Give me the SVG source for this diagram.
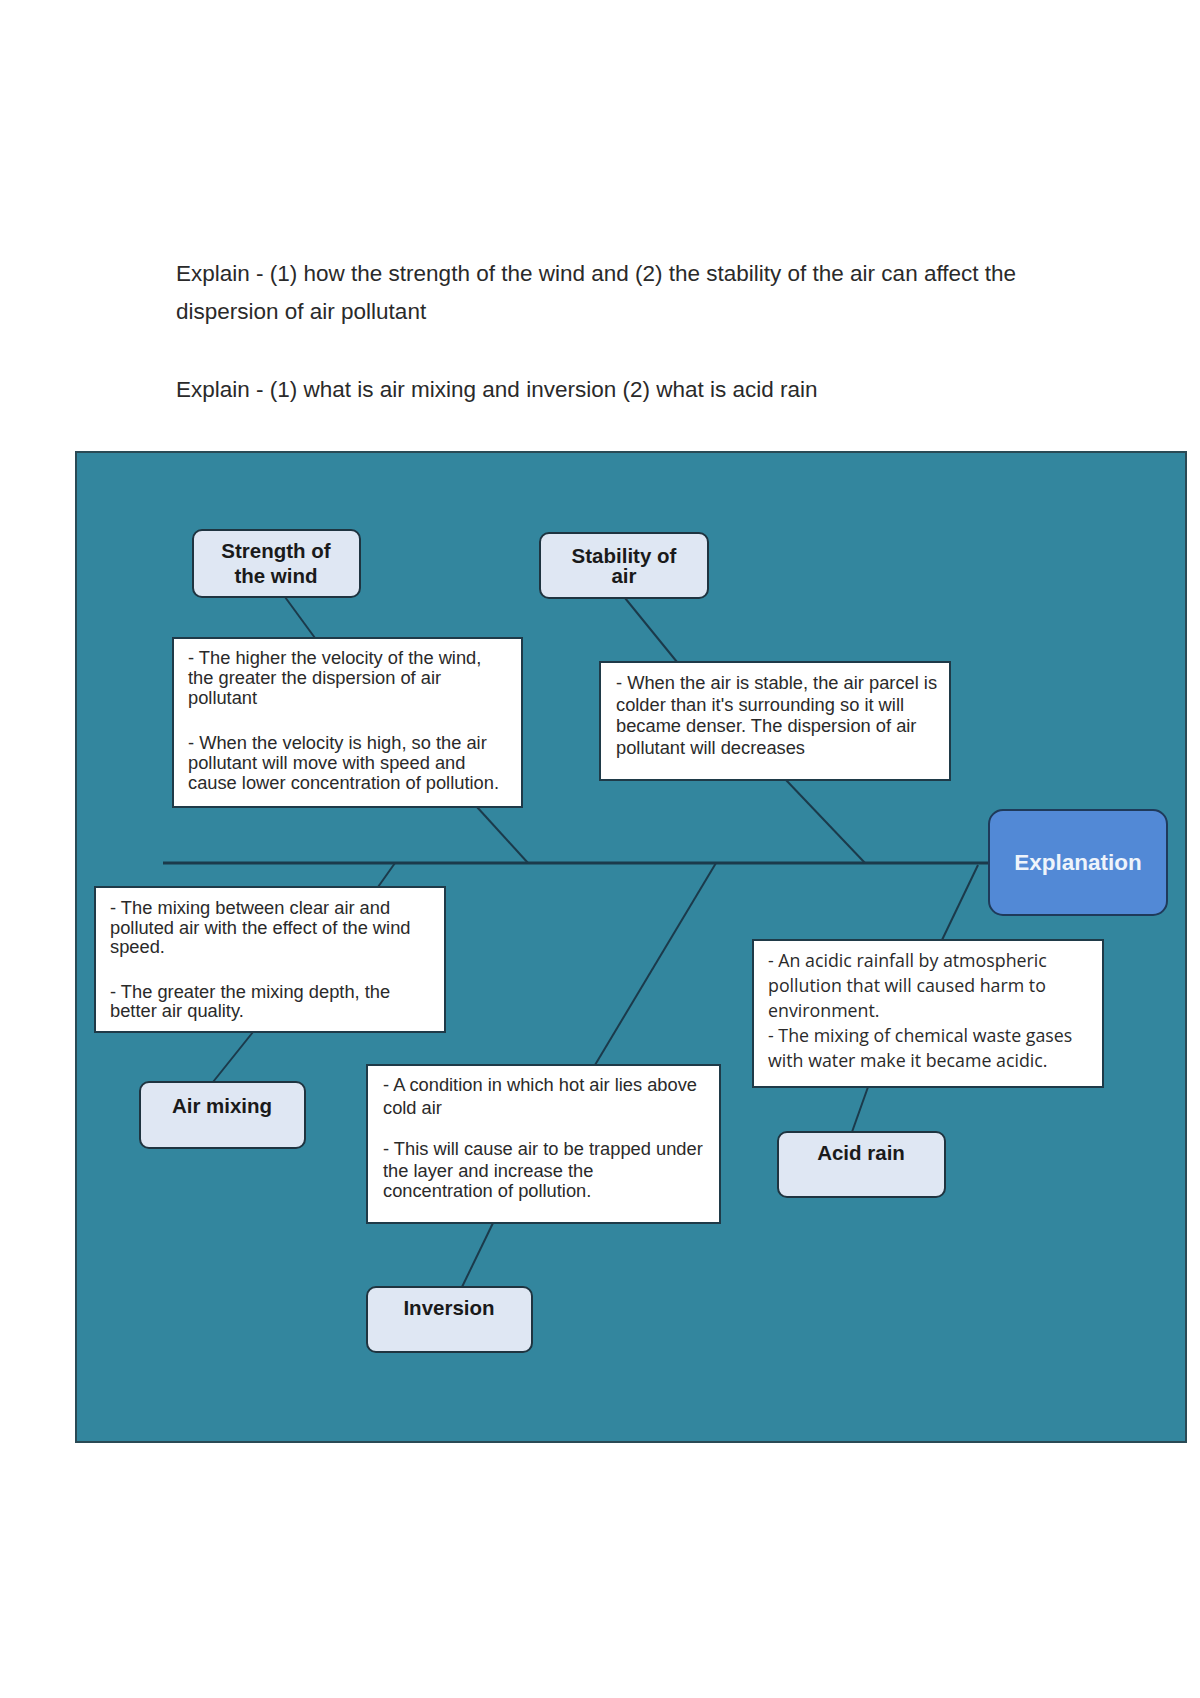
<svg xmlns="http://www.w3.org/2000/svg" width="1200" height="1698" viewBox="0 0 1200 1698">
<style>
.title{font-family:"Liberation Sans",Arial,sans-serif;font-size:22.5px;fill:#2a2a2a}
.lbl{fill:#dfe7f3;stroke:#1f3440;stroke-width:2}
.lt{font-family:"Liberation Sans",Arial,sans-serif;font-size:20.5px;font-weight:bold;fill:#1a1a1a;text-anchor:middle}
.tb{fill:#ffffff;stroke:#1f3a48;stroke-width:2}
.bt{font-family:"Liberation Sans",Arial,sans-serif;font-size:18.3px;fill:#2a2a2a}
.bo{font-family:"Open Sans","Noto Sans",sans-serif;font-size:17.8px;fill:#2a2a2a}
.con{stroke:#1b3a4b;stroke-width:2;fill:none}
</style>
<rect x="0" y="0" width="1200" height="1698" fill="#ffffff"/>
<text class="title" x="176" y="281">Explain - (1) how the strength of the wind and (2) the stability of the air can affect the</text>
<text class="title" x="176" y="319">dispersion of air pollutant</text>
<text class="title" x="176" y="397">Explain - (1) what is air mixing and inversion (2) what is acid rain</text>
<rect x="76" y="452" width="1110" height="990" fill="#33869e" stroke="#2a4a55" stroke-width="2"/>
<g id="connectors">
<line class="con" x1="163" y1="863" x2="989" y2="863" style="stroke-width:3"/>
<line class="con" x1="285" y1="597" x2="315" y2="638"/>
<line class="con" x1="477" y1="807" x2="528" y2="863"/>
<line class="con" x1="625" y1="598" x2="677" y2="662"/>
<line class="con" x1="786" y1="780" x2="865" y2="863"/>
<line class="con" x1="395" y1="863" x2="378" y2="887"/>
<line class="con" x1="253" y1="1032" x2="213" y2="1082"/>
<line class="con" x1="716" y1="863" x2="595" y2="1065"/>
<line class="con" x1="493" y1="1223" x2="462" y2="1287"/>
<line class="con" x1="978" y1="865" x2="942" y2="940"/>
<line class="con" x1="868" y1="1087" x2="852" y2="1132"/>
</g>
<g id="strength">
<rect class="lbl" x="193" y="530" width="167" height="67" rx="9"/>
<text class="lt" x="276" y="558">Strength of</text>
<text class="lt" x="276" y="583">the wind</text>
</g>
<g id="stability">
<rect class="lbl" x="540" y="533" width="168" height="65" rx="9"/>
<text class="lt" x="624" y="563">Stability of</text>
<text class="lt" x="624" y="583">air</text>
</g>
<g id="strength-text">
<rect class="tb" x="173" y="638" width="349" height="169"/>
<text class="bt" x="188" y="664">- The higher the velocity of the wind,</text>
<text class="bt" x="188" y="684">the greater the dispersion of air</text>
<text class="bt" x="188" y="704">pollutant</text>
<text class="bt" x="188" y="749">- When the velocity is high, so the air</text>
<text class="bt" x="188" y="769">pollutant will move with speed and</text>
<text class="bt" x="188" y="789">cause lower concentration of pollution.</text>
</g>
<g id="stability-text">
<rect class="tb" x="600" y="662" width="350" height="118"/>
<text class="bt" x="616" y="689">- When the air is stable, the air parcel is</text>
<text class="bt" x="616" y="711">colder than it's surrounding so it will</text>
<text class="bt" x="616" y="732">became denser. The dispersion of air</text>
<text class="bt" x="616" y="754">pollutant will decreases</text>
</g>
<g id="explanation">
<rect x="989" y="810" width="178" height="105" rx="14" fill="#5289d6" stroke="#1f3a5a" stroke-width="2"/>
<text x="1078" y="870" font-family="Liberation Sans, Arial, sans-serif" font-size="22.5" font-weight="bold" fill="#eef4fb" text-anchor="middle">Explanation</text>
</g>
<g id="mixing-text">
<rect class="tb" x="95" y="887" width="350" height="145"/>
<text class="bt" x="110" y="914">- The mixing between clear air and</text>
<text class="bt" x="110" y="934">polluted air with the effect of the wind</text>
<text class="bt" x="110" y="953">speed.</text>
<text class="bt" x="110" y="998">- The greater the mixing depth, the</text>
<text class="bt" x="110" y="1017">better air quality.</text>
</g>
<g id="air-mixing">
<rect class="lbl" x="140" y="1082" width="165" height="66" rx="9"/>
<text class="lt" x="222" y="1113">Air mixing</text>
</g>
<g id="inversion-text">
<rect class="tb" x="367" y="1065" width="353" height="158"/>
<text class="bt" x="383" y="1091">- A condition in which hot air lies above</text>
<text class="bt" x="383" y="1114">cold air</text>
<text class="bt" x="383" y="1155">- This will cause air to be trapped under</text>
<text class="bt" x="383" y="1177">the layer and increase the</text>
<text class="bt" x="383" y="1197">concentration of pollution.</text>
</g>
<g id="inversion">
<rect class="lbl" x="367" y="1287" width="165" height="65" rx="9"/>
<text class="lt" x="449" y="1315">Inversion</text>
</g>
<g id="acid-text">
<rect class="tb" x="753" y="940" width="350" height="147"/>
<text class="bo" x="768" y="967">- An acidic rainfall by atmospheric</text>
<text class="bo" x="768" y="992">pollution that will caused harm to</text>
<text class="bo" x="768" y="1017">environment.</text>
<text class="bo" x="768" y="1042">- The mixing of chemical waste gases</text>
<text class="bo" x="768" y="1067">with water make it became acidic.</text>
</g>
<g id="acid-rain">
<rect class="lbl" x="778" y="1132" width="167" height="65" rx="9"/>
<text class="lt" x="861" y="1160">Acid rain</text>
</g>
</svg>
